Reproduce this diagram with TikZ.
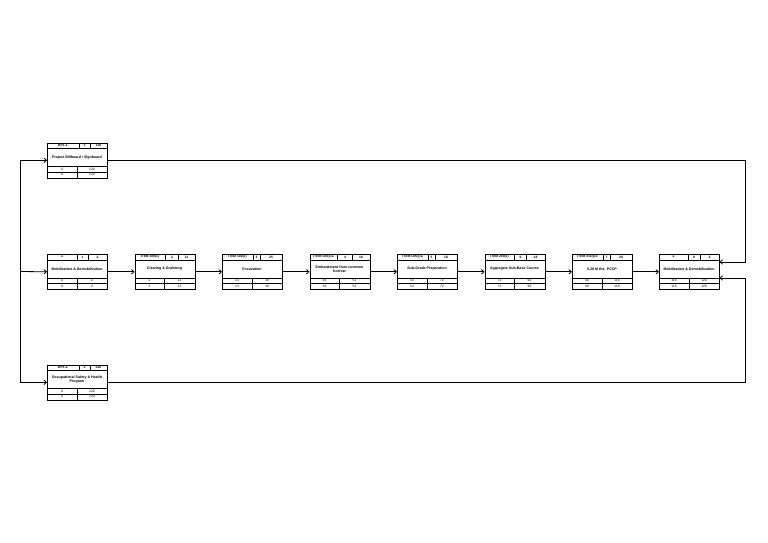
\documentclass[tikz,border=0pt]{standalone}
\usepackage{fontspec}
\setmainfont{Liberation Sans}
\usetikzlibrary{arrows.meta}
\tikzset{
  boxline/.style={draw=black,line width=0.6pt},
  actbox/.style={boxline,fill=white,minimum width=60pt,minimum height=35pt,inner sep=0pt,anchor=north west},
  hdr/.style={font=\fontsize{3.3}{3.7}\selectfont\bfseries,inner sep=0pt},
  ttl/.style={font=\fontsize{3.6}{4.2}\selectfont\bfseries,inner sep=0pt,align=center},
  num/.style={font=\fontsize{3.3}{3.7}\selectfont,inner sep=0pt},
  conn/.style={draw=black,line width=0.8pt,-{Straight Barb[length=2.5pt,width=4.5pt]}},
}
\def\dA{30}\def\dB{41}
% #1 name #2 x #3 y #4 h1 #5 h2 #6 h3 #7 title #8 left #9 right
\newcommand\actbox[9]{%
  \node[actbox] (#1) at (#2,#3) {};
  \draw[boxline] (#2,{#3+6}) -- ++(60,0);
  \draw[boxline] (#2,{#3+24}) -- ++(60,0);
  \draw[boxline] (#2,{#3+29.5}) -- ++(60,0);
  \draw[boxline] ({#2+\dA},#3) -- ++(0,6);
  \draw[boxline] ({#2+\dB},#3) -- ++(0,6);
  \draw[boxline] ({#2+30},{#3+24}) -- ++(0,11);
  \node[hdr] at ({#2+\dA/2},{#3+3}) {#4};
  \node[hdr] at ({#2+(\dA+\dB)/2},{#3+3}) {#5};
  \node[hdr] at ({#2+(\dB+60)/2},{#3+3}) {#6};
  \node[ttl] at ({#2+30},{#3+15}) {#7};
  \node[num] at ({#2+15},{#3+26.75}) {#8};
  \node[num] at ({#2+45},{#3+26.75}) {#9};
  \node[num] at ({#2+15},{#3+32.25}) {#8};
  \node[num] at ({#2+45},{#3+32.25}) {#9};
}
\begin{document}
\begin{tikzpicture}[x=1pt,y=-1pt]
\useasboundingbox (0,0) rectangle (768,543);
\def\dA{32}\def\dB{43}
\actbox{top}{47}{142.5}{BPL-1}{1}{120}{Project Billboard / Signboard}{0}{120}
\actbox{bot}{47}{364.5}{BPL-2}{2}{120}{Occupational Safety \& Health\\Program}{0}{120}
\def\dA{30}\def\dB{41}
\actbox{b1}{47}{254}{a}{1}{2}{Mobilization \& Demobilization}{0}{2}
\def\dA{31}\def\dB{44}
\actbox{b2}{134.5}{254}{ITEM 100(1)}{2}{11}{Clearing \& Grubbing}{2}{13}
\def\dA{31}\def\dB{38}
\actbox{b3}{222}{254}{ITEM 102(2)}{3}{25}{Excavation}{13}{38}
\def\dA{28}\def\dB{43}
\actbox{b4}{309.5}{254}{ITEM 104(1)a}{4}{16}{Embankment from common\\borrow}{38}{54}
\def\dA{31}\def\dB{38}
\actbox{b5}{397}{254}{ITEM 105(1)a}{5}{18}{Sub-Grade Preparation}{54}{72}
\def\dA{30}\def\dB{42}
\actbox{b6}{484.5}{254}{ITEM 200(1)}{6}{18}{Aggregate Sub-Base Course}{72}{90}
\def\dA{31}\def\dB{38}
\actbox{b7}{572}{254}{ITEM 311(1)d}{7}{28}{0.28 M thk. PCCP}{90}{118}
\def\dA{29}\def\dB{41}
\actbox{b8}{659}{254}{a}{8}{2}{Mobilization \& Demobilization}{118}{120}

\coordinate (fork) at (20.5,271.5);
\draw[conn] (fork) |- (top.west);
\draw[conn] (fork) -- (b1.west);
\draw[conn] (fork) |- (bot.west);

\draw[conn] (b1.east) -- (b2.west);
\draw[conn] (b2.east) -- (b3.west);
\draw[conn] (b3.east) -- (b4.west);
\draw[conn] (b4.east) -- (b5.west);
\draw[conn] (b5.east) -- (b6.west);
\draw[conn] (b6.east) -- (b7.west);
\draw[conn] (b7.east) -- (b8.west);

\coordinate (r1) at (745.5,262);
\coordinate (r2) at (745.5,278);
\draw[conn] (top.east) -| (r1) -- (r1 -| b8.east);
\draw[conn] (bot.east) -| (r2) -- (r2 -| b8.east);
\end{tikzpicture}
\end{document}
